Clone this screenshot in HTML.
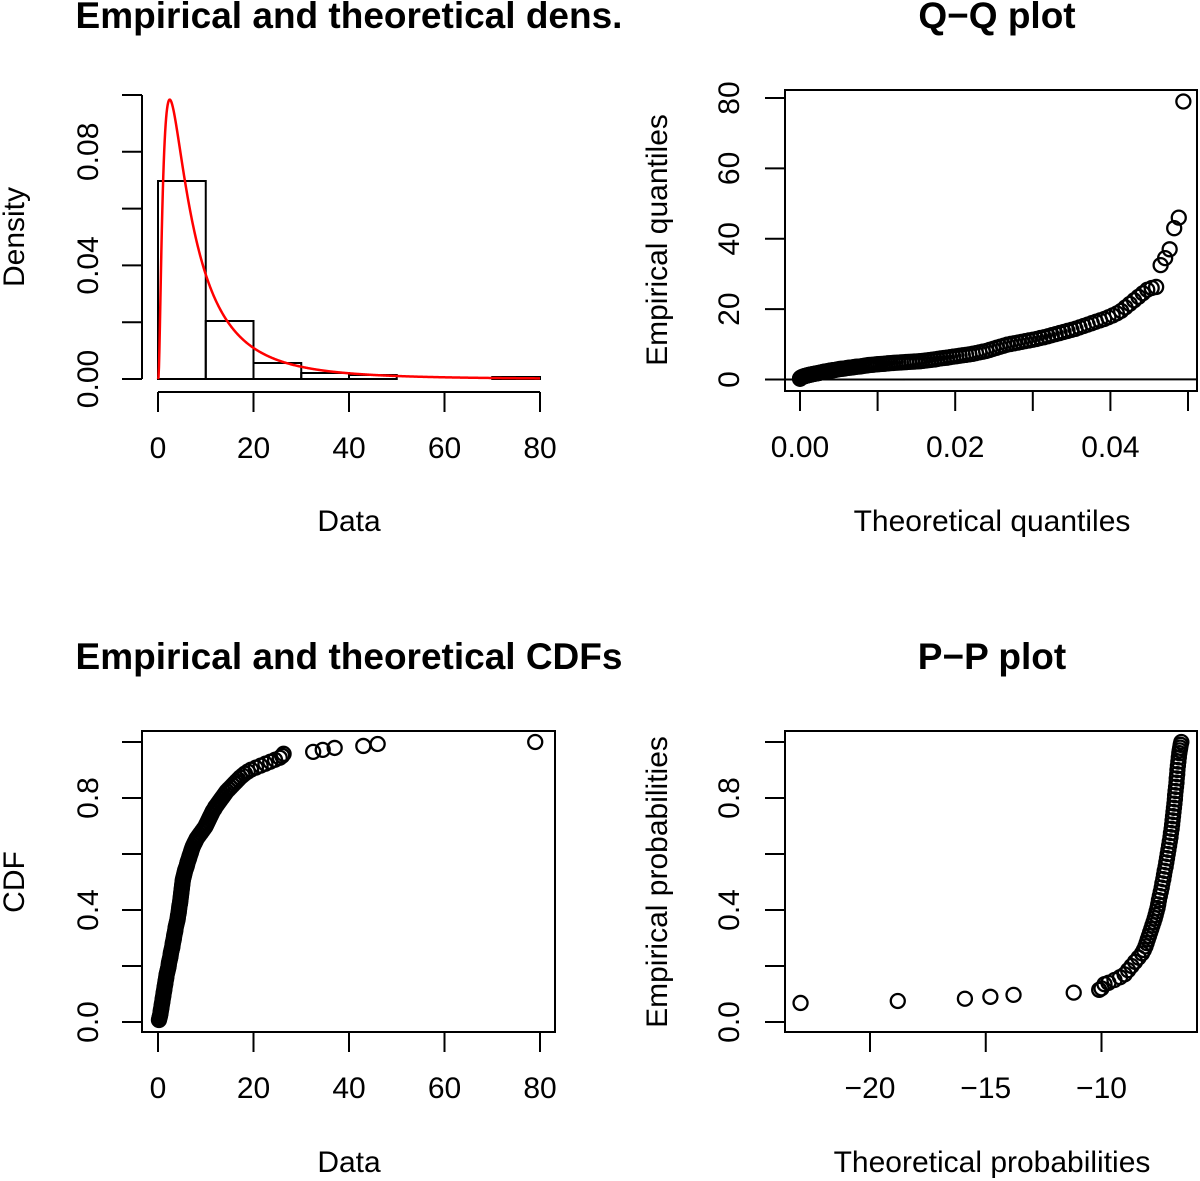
<!DOCTYPE html>
<html><head><meta charset="utf-8"><style>
html,body{margin:0;padding:0;background:#fff;}
svg{display:block;font-family:"Liberation Sans",Arial,sans-serif;}
</style></head><body>
<svg id="fig" width="1200" height="1181" viewBox="0 0 1200 1181" xmlns="http://www.w3.org/2000/svg">
</svg>
<script>
const sampleData = [
0.2,0.3,0.4,0.5,0.55,0.6,0.7,0.75,0.8,0.9,0.95,1.0,1.1,1.15,1.2,1.3,1.35,1.4,1.5,1.55,1.6,1.7,1.75,1.8,1.9,
2.0,2.1,2.2,2.25,2.3,2.4,2.5,2.6,2.65,2.7,2.8,2.9,3.0,3.05,3.1,3.2,3.3,3.35,3.4,3.5,3.6,3.65,3.7,3.8,3.9,4.0,
4.1,4.15,4.2,4.3,4.35,4.4,4.45,4.5,4.6,4.65,4.7,4.75,4.8,4.85,4.9,4.95,5.0,5.05,5.1,5.15,5.2,
5.3,5.4,5.5,5.6,5.7,5.85,6.0,6.1,6.2,6.35,6.5,6.6,6.75,6.9,7.0,7.15,7.3,
7.5,7.7,7.9,8.1,8.4,8.7,9.0,9.3,9.6,9.9,
10.1,10.3,10.5,10.7,10.9,11.1,11.3,11.5,11.8,12.0,12.3,12.6,12.9,13.2,13.5,13.8,14.1,14.4,14.8,15.2,15.6,16.0,16.4,16.8,17.2,17.7,18.2,18.8,19.5,
20.5,21.5,22.5,23.5,24.5,25.5,26.0,26.3,
32.5,34.5,37.0,43.0,46.0,79.0];
const histBreaks = [0,10,20,30,40,50,60,70,80];
const lnMeanlog = [1.9];
const lnSdlog = [1.0];
const qqExponent = [1.7];
const qqMax = [0.0497];
const densTicks = [0,0.02,0.04,0.06,0.08,0.10];
const densTickLabels = ["0.00","","0.04","","0.08",""];
const dataTicks = [0,20,40,60,80];
const qqYTicks = [0,20,40,60,80];
const qqXTicks = [0,0.01,0.02,0.03,0.04,0.05];
const qqXTickLabels = ["0.00","","0.02","","0.04",""];
const probTicks = [0,0.2,0.4,0.6,0.8,1.0];
const probTickLabels = ["0.0","","0.4","","0.8",""];
const ppXTicks = [-20,-15,-10];
const ppXTickLabels = ["\u221220","\u221215","\u221210"];
const ppTheo = [-23.0,-18.8,-15.9,-14.8,-13.8,-11.2,
-10.1,-10.0,-9.87,-9.7,-9.44,-9.2,-9.0,-8.85,-8.7,-8.55,-8.4,-8.25,-8.17,-8.1,-8.05,-8.0,-7.95,-7.9,-7.85,-7.8,-7.75,-7.7,-7.66,-7.62,-7.58,-7.55,-7.52,-7.48,-7.44,-7.4,-7.37,-7.33,-7.3,-7.27,-7.23,-7.2,-7.17,-7.14,-7.11,-7.08,-7.05,-7.02,-7.0,-6.97,-6.95,-6.93,-6.91,-6.89,-6.87,-6.85,-6.83,-6.82,-6.8,-6.78,-6.76,-6.75,-6.73,-6.72,-6.7,-6.68,-6.66,-6.64,-6.62,-6.6,-6.58,-6.55];
const ppEmp = [0.068,0.075,0.083,0.090,0.097,0.105,
0.115,0.12,0.135,0.14,0.15,0.16,0.17,0.185,0.2,0.215,0.23,0.245,0.257,0.27,0.282,0.295,0.307,0.32,0.332,0.345,0.357,0.37,0.382,0.395,0.407,0.42,0.435,0.45,0.465,0.48,0.495,0.51,0.525,0.54,0.555,0.57,0.585,0.6,0.615,0.63,0.645,0.66,0.675,0.69,0.705,0.72,0.735,0.75,0.765,0.78,0.795,0.81,0.825,0.84,0.855,0.87,0.885,0.9,0.915,0.93,0.945,0.96,0.97,0.98,0.99,1.0];

const NS="http://www.w3.org/2000/svg";
const svg=document.getElementById('fig');
function mk(tag,attrs,parent){const e=document.createElementNS(NS,tag);for(const k in attrs)e.setAttribute(k,attrs[k]);(parent||svg).appendChild(e);return e;}
function txt(s,x,y,size,opts,parent){opts=opts||{};const a={x:x,y:y,'font-size':size,'text-anchor':'middle',fill:'#000'};if(opts.bold)a['font-weight']='bold';if(opts.rot)a.transform='rotate(-90 '+x+' '+y+')';const t=mk('text',a,parent);t.textContent=s;return t;}
function lin(d0,d1,p0,p1){return v=>p0+(v-d0)*(p1-p0)/(d1-d0);}
function group(name){const g=mk('g',{});return g;}
function yAxis(g,ticks,labels,sy,ax,y0,y1,labX){
  const a=mk('g',{},g);
  mk('line',{x1:ax,y1:y0,x2:ax,y2:y1,stroke:'#000','stroke-width':2},a);
  ticks.forEach((t,i)=>{const y=sy(t);mk('line',{x1:ax,y1:y,x2:ax-20,y2:y,stroke:'#000','stroke-width':2},a);
    if(labels[i]){const l=txt(labels[i],labX,y,30,{rot:true},a);}});
}
function xAxis(g,ticks,labels,sx,ay,x0,x1){
  const a=mk('g',{},g);
  mk('line',{x1:x0,y1:ay,x2:x1,y2:ay,stroke:'#000','stroke-width':2},a);
  ticks.forEach((t,i)=>{const x=sx(t);mk('line',{x1:x,y1:ay,x2:x,y2:ay+20,stroke:'#000','stroke-width':2},a);
    if(labels[i]){const l=txt(labels[i],x,ay+66,30,{},a);}});
}
function circ(g,x,y){const c=mk('circle',{cx:x,cy:y,r:7,fill:'none',stroke:'#000','stroke-width':2.3},g);}
const n=sampleData.length;

// ---- Panel 1: density ----
(function(){
  const g=group('density-panel');
  const sx=lin(0,80,158,540), sy=lin(0,0.10,379,95);
  let t=txt('Empirical and theoretical dens.',349,28,37,{bold:true},g);
  t=txt('Density',24,237,30,{rot:true},g);
  t=txt('Data',349,531,30,{},g);
  yAxis(g,densTicks,densTickLabels,sy,142,95,379,98);
  xAxis(g,dataTicks,dataTicks.map(String),sx,392,158,540);
  const bars=mk('g',{},g);
  for(let i=0;i<histBreaks.length-1;i++){
    const a=histBreaks[i],b=histBreaks[i+1];
    const c=sampleData.filter(v=>v>=a&&v<b).length;
    const d=c/n/(b-a);
    const r=mk('rect',{x:sx(a),y:sy(d),width:sx(b)-sx(a),height:sy(0)-sy(d),fill:'none',stroke:'#000','stroke-width':2},bars);
    
  }
  const mu=lnMeanlog[0],s=lnSdlog[0];let pts=[];
  for(let i=0;i<=800;i++){const x=i*0.1;let d=0;if(x>0)d=Math.exp(-Math.pow(Math.log(x)-mu,2)/(2*s*s))/(x*s*Math.sqrt(2*Math.PI));pts.push(sx(x).toFixed(2)+','+sy(d).toFixed(2));}
  const p=mk('polyline',{points:pts.join(' '),fill:'none',stroke:'#ff0000','stroke-width':2.5},g);
  
})();

// ---- Panel 2: Q-Q ----
(function(){
  const g=group('qq-panel');
  const sx=lin(0,0.05,800,1188), sy=lin(0,80,379.5,98);
  let t=txt('Q\u2212Q plot',997,28,37,{bold:true},g);
  t=txt('Empirical quantiles',667,240,30,{rot:true},g);
  t=txt('Theoretical quantiles',992,531,30,{},g);
  const b=mk('rect',{x:785,y:90,width:412,height:301,fill:'none',stroke:'#000','stroke-width':2},g);
  yAxis(g,qqYTicks,qqYTicks.map(String),sy,785,sy(0),sy(80),739);
  xAxis(g,qqXTicks,qqXTickLabels,sx,391,sx(0),sx(0.05));
  const l=mk('line',{x1:785,y1:sy(0),x2:1197,y2:sy(0.0507),stroke:'#000','stroke-width':2},g);
  const pts=mk('g',{},g);
  sampleData.forEach((v,i)=>{const q=qqMax[0]*Math.pow((i+0.5)/n,qqExponent[0]);circ(pts,sx(q),sy(v));});
})();

// ---- Panel 3: CDF ----
(function(){
  const g=group('cdf-panel');
  const sx=lin(0,80,158,540), sy=lin(0,1,1022,742);
  let t=txt('Empirical and theoretical CDFs',349,669,37,{bold:true},g);
  t=txt('CDF',24,882,30,{rot:true},g);
  t=txt('Data',349,1172,30,{},g);
  const b=mk('rect',{x:142,y:731,width:413,height:301,fill:'none',stroke:'#000','stroke-width':2},g);
  yAxis(g,probTicks,probTickLabels,sy,142,sy(0),sy(1),98);
  xAxis(g,dataTicks,dataTicks.map(String),sx,1032,sx(0),sx(80));
  const pts=mk('g',{},g);
  sampleData.forEach((v,i)=>circ(pts,sx(v),sy((i+1)/n)));
})();

// ---- Panel 4: P-P ----
(function(){
  const g=group('pp-panel');
  const sx=lin(-20,-10,870,1101.5), sy=lin(0,1,1022,742);
  let t=txt('P\u2212P plot',992,669,37,{bold:true},g);
  t=txt('Empirical probabilities',667,882,30,{rot:true},g);
  t=txt('Theoretical probabilities',992,1172,30,{},g);
  const b=mk('rect',{x:785,y:731,width:412,height:301,fill:'none',stroke:'#000','stroke-width':2},g);
  yAxis(g,probTicks,probTickLabels,sy,785,sy(0),sy(1),739);
  xAxis(g,ppXTicks,ppXTickLabels,sx,1032,sx(-20),sx(-10));
  const pts=mk('g',{},g);
  ppTheo.forEach((v,i)=>circ(pts,sx(v),sy(ppEmp[i])));
})();
</script>
</body></html>
